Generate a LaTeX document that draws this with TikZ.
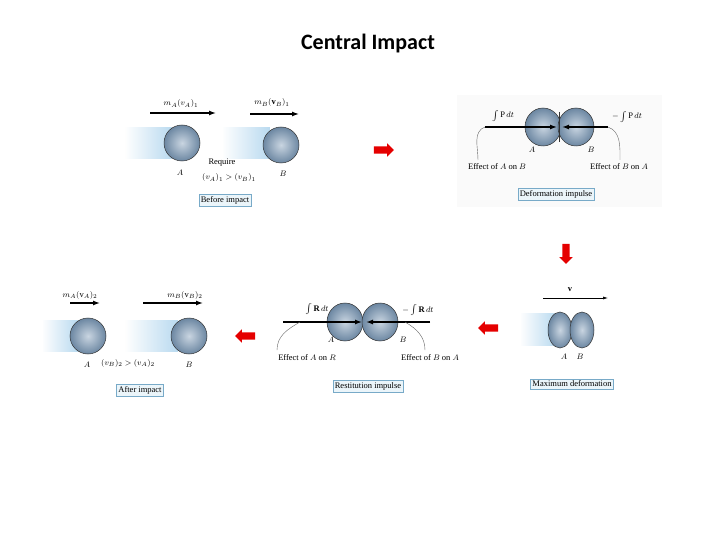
\documentclass[tikz,border=0pt]{standalone}
\usepackage{fontspec}
\setmainfont{Liberation Serif}
\newfontfamily\titlefont{Carlito}
\usetikzlibrary{arrows.meta,shapes.arrows,fadings}
\definecolor{sph}{RGB}{120,150,180}
\definecolor{blur}{RGB}{185,218,240}
\definecolor{boxb}{RGB}{120,170,200}
\definecolor{boxf}{RGB}{235,245,250}
\tikzset{
 ball/.style={draw=black!80,line width=0.5pt,inner color=sph!40,outer color=sph!90!black},
 mom/.style={-{Latex[length=7pt,width=5pt]},line width=1.3pt},
 lbl/.style={font=\fontsize{8.5}{10}\selectfont,inner sep=1pt},
 capbox/.style={draw=boxb,fill=boxf,font=\fontsize{8.5}{10}\selectfont,inner sep=2pt},
 redarr/.style={single arrow,fill=red!90!black,draw=none,minimum height=20pt,inner sep=3.5pt,single arrow head extend=3pt},
 thinline/.style={black!60,line width=0.4pt}
}
\begin{document}
\begin{tikzpicture}[x=1pt,y=-1pt]
\useasboundingbox (0,0) rectangle (720,540);
\fill[white] (0,0) rectangle (720,540);
\node[font=\titlefont\bfseries\fontsize{22}{26}\selectfont] (title) at (368,44) {Central Impact};
% Panel 1
\fill[blur,path fading=west] (125,127) rectangle (172,159);
\fill[blur,path fading=west] (222,127) rectangle (270,159);
\shade[ball] (182,143) circle (18);
\shade[ball] (281,145) circle (18);
\coordinate (p1s) at (150,113); \coordinate (p1e) at (216,113);
\draw[mom] (p1s) -- (p1e);
\coordinate (q1s) at (250,114); \coordinate (q1e) at (299,114);
\draw[mom] (q1s) -- (q1e);
\node[lbl] (m1) at (181,104) {$m_A(v_A)_1$};
\node[lbl] (m2) at (272,103) {$m_B(\mathbf{v}_B)_1$};
\node[lbl] (la1) at (180,173) {$A$};
\node[lbl] (lb1) at (283,174) {$B$};
\node[lbl] (req) at (222,163) {Require};
\node[lbl] (cond1) at (229,178) {$(v_A)_1>(v_B)_1$};
\node[capbox] (cap1) at (225,200) {Before impact};
\node[redarr] (r1) at (382,150) {};
% Panel 2
\fill[black!2] (457,95) rectangle (662,207);
\shade[ball] (543,127) ellipse (18 and 19);
\shade[ball] (576,127) ellipse (18 and 19);
\draw[black!80] (559.5,112) -- (559.5,142);
\coordinate (d1s) at (485,127); \coordinate (d1e) at (557,127);
\coordinate (d2s) at (608,127); \coordinate (d2e) at (562,127);
\draw[mom] (d1s) -- (d1e);
\draw[mom] (d2s) -- (d2e);
\draw[thinline] (d1s) to[out=200,in=90] (478,160);
\draw[thinline] (d2s) to[out=-20,in=90] (620,160);
\node[lbl] (pd1) at (503,116) {$\int \mathrm{P}\,dt$};
\node[lbl] (pd2) at (627,117) {$-\int \mathrm{P}\,dt$};
\node[lbl] (la2) at (532,150) {$A$};
\node[lbl] (lb2) at (591,150) {$B$};
\node[lbl] (e1) at (497,167) {Effect of $A$ on $B$};
\node[lbl] (e2) at (619,167) {Effect of $B$ on $A$};
\node[capbox] (cap2) at (556,194) {Deformation impulse};
\node[redarr,rotate=-90] (r2) at (566,252) {};
% Panel 3
\fill[blur,path fading=west] (520,313) rectangle (556,346);
\shade[ball] (560,330) ellipse (12 and 18);
\shade[ball] (582,330) ellipse (12 and 18);
\coordinate (vs) at (543,298); \coordinate (ve) at (608,298);
\draw[-{Latex[length=5pt,width=3pt]},line width=0.6pt] (vs) -- (ve);
\node[lbl] (vl) at (570,290) {$\mathbf{v}$};
\node[lbl] (la3) at (564,357) {$A$};
\node[lbl] (lb3) at (580,357) {$B$};
\node[capbox] (cap3) at (572,384) {Maximum deformation};
\node[redarr,rotate=180] (r3) at (490,328) {};
% Panel 4
\shade[ball] (345,322) ellipse (18 and 19);
\shade[ball] (380,322) ellipse (18 and 19);
\coordinate (f1s) at (283,322); \coordinate (f1e) at (362,322);
\coordinate (f2s) at (430,322); \coordinate (f2e) at (366,322);
\draw[mom] (f1s) -- (f1e);
\draw[mom] (f2s) -- (f2e);
\draw[thinline] (300,322) to[out=210,in=90] (277,350);
\draw[thinline] (405,322) to[out=-30,in=90] (425,350);
\node[lbl] (rd1) at (317,309) {$\int \mathbf{R}\,dt$};
\node[lbl] (rd2) at (418,310) {$-\int \mathbf{R}\,dt$};
\node[lbl] (la4) at (331,340) {$A$};
\node[lbl] (lb4) at (403,340) {$B$};
\node[lbl] (e3) at (307,358) {Effect of $A$ on $R$};
\node[lbl] (e4) at (430,358) {Effect of $B$ on $A$};
\node[capbox] (cap4) at (368,386) {Restitution impulse};
\node[redarr,rotate=180] (r4) at (247,336) {};
% Panel 5
\fill[blur,path fading=west] (42,320) rectangle (78,352);
\fill[blur,path fading=west] (125,320) rectangle (178,352);
\shade[ball] (88,336) circle (18);
\shade[ball] (189,336) circle (18);
\coordinate (g1s) at (70,303); \coordinate (g1e) at (100,303);
\coordinate (g2s) at (143,303); \coordinate (g2e) at (203,303);
\draw[mom] (g1s) -- (g1e);
\draw[mom] (g2s) -- (g2e);
\node[lbl] (m3) at (80,295) {$m_A(\mathrm{v}_A)_2$};
\node[lbl] (m4) at (185,295) {$m_B(\mathrm{v}_B)_2$};
\node[lbl] (la5) at (87,365) {$A$};
\node[lbl] (lb5) at (189,365) {$B$};
\node[lbl] (cond2) at (128,363) {$(v_B)_2>(v_A)_2$};
\node[capbox] (cap5) at (140,390) {After impact};
\end{tikzpicture}
\end{document}
